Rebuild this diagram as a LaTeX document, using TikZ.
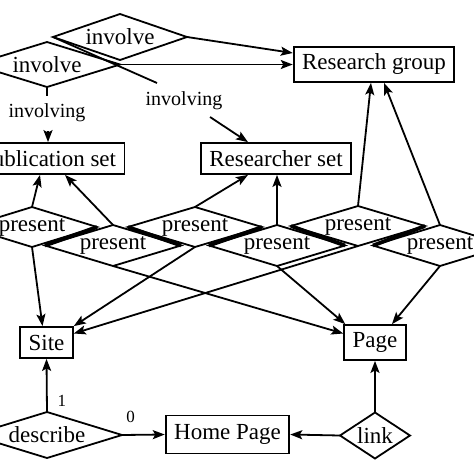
\documentclass[tikz,border=0pt]{standalone}
\usepackage{fontspec}
\setmainfont{Liberation Serif}
\usetikzlibrary{arrows.meta,shapes.geometric}
\newcommand\zw[1]{\makebox[0pt]{#1}}
\begin{document}
\begin{tikzpicture}[x=1pt,y=-1pt,
  font=\fontsize{23}{27}\selectfont,
  ent/.style={draw,line width=1.8pt,inner xsep=8.5pt,inner ysep=0pt,rectangle},
  rel/.style={draw,line width=1.8pt,diamond,inner sep=0pt,outer sep=0pt,aspect=1},
  lbl/.style={font=\fontsize{20}{24}\selectfont,inner sep=1pt},
  num/.style={font=\fontsize{17}{20}\selectfont,inner sep=1pt},
  con/.style={line width=1.8pt},
  arr/.style={con,-{Stealth[length=12pt,width=9pt,inset=2.5pt]}},
  boldline/.style={line width=3.8pt},
]
\useasboundingbox (0,0) rectangle (474,474);

% entities
\node[ent,minimum height=35pt] (rg) at (374,64.5) {Research group};
\node[ent,minimum height=31pt] (pub) at (48,158.5) {Publication set};
\node[ent,minimum height=31pt] (res) at (276,158.5) {Researcher set};
\node[ent,minimum height=31pt] (site) at (46.5,342.5) {Site};
\node[ent,minimum height=35pt] (page) at (375,342.5) {Page};
\node[ent,minimum height=38pt] (home) at (227.5,434.5) {Home Page};

% relationships
\node[rel,minimum width=134pt,minimum height=46pt] (inv1) at (120,37) {\zw{involve}};
\node[rel,minimum width=146pt,minimum height=45pt] (inv2) at (47,64.5) {\zw{involve}};
\node[rel,minimum width=130pt,minimum height=40pt] (p1) at (32,227) {\zw{present}};
\node[rel,minimum width=136pt,minimum height=41pt] (p2) at (113,245.5) {\zw{present}};
\node[rel,minimum width=134pt,minimum height=40pt] (p3) at (195,227) {\zw{present}};
\node[rel,minimum width=136pt,minimum height=41pt] (p4) at (277,245.5) {\zw{present}};
\node[rel,minimum width=134pt,minimum height=40pt] (p5) at (358,226) {\zw{present}};
\node[rel,minimum width=134pt,minimum height=41pt] (p6) at (440,245.5) {\zw{present}};
\node[rel,minimum width=150pt,minimum height=46pt] (desc) at (47,435) {\zw{describe}};
\node[rel,minimum width=70pt,minimum height=46pt] (link) at (375,435.5) {\zw{link}};

% involve connectors
\draw[arr] (inv1.east) -- ([yshift=11.5pt]rg.west);
\draw[arr] (inv2.east) -- (rg.west);
\coordinate (c1) at (157,83);
\draw[con] (inv1.west) -- (c1);
\node[lbl] (l1) at (184,101) {involving};
\coordinate (c2) at (210,117);
\draw[arr] (c2) -- ([xshift=-28pt]res.north);
\coordinate (c3) at (47,96);
\draw[con] (inv2.south) -- (c3);
\node[lbl] (l2) at (47,113) {involving};
\coordinate (c4) at (48,131);
\draw[arr] (c4) -- (pub.north);

% present connectors up
\draw[arr] (p1.north) -- ([xshift=-8pt]pub.south);
\draw[arr] (p2.north) -- ([xshift=17pt]pub.south);
\draw[arr] (p3.north) -- ([xshift=-28pt]res.south);
\draw[arr] (p4.north) -- (p4.north |- res.south);
\draw[arr] (p5.north) -- ([xshift=-3pt]rg.south);
\draw[arr] (p6.north) -- ([xshift=10pt]rg.south);
% present connectors down
\draw[arr] (p1.south) -- ([xshift=-4pt]site.north);
\draw[arr] (p3.south) -- (site.north east);
\draw[arr] (p5.south) -- ([yshift=9pt]site.east);
\draw[arr] (p2.south) -- ([yshift=9pt]page.west);
\draw[arr] (p4.south) -- ([xshift=2pt]page.north west);
\draw[arr] (p6.south) -- ([xshift=17pt]page.north);

% bold links between paired relationships
\draw[boldline] (p1.east) -- (p2.west);
\draw[boldline] (p3.west) -- (p2.east);
\draw[boldline] (p3.east) -- (p4.west);
\draw[boldline] (p5.west) -- (p4.east);
\draw[boldline] (p5.east) -- (p6.west);

% bottom
\draw[arr] (desc.north) -- (site.south) node[num,pos=0.2,xshift=15pt] (n1) {1};
\draw[arr] (desc.east) -- (home.west) node[num,pos=0.2,yshift=18pt] (n0) {0};
\draw[arr] (link.north) -- (page.south);
\draw[arr] (link.west) -- (home.east);
\end{tikzpicture}
\end{document}
